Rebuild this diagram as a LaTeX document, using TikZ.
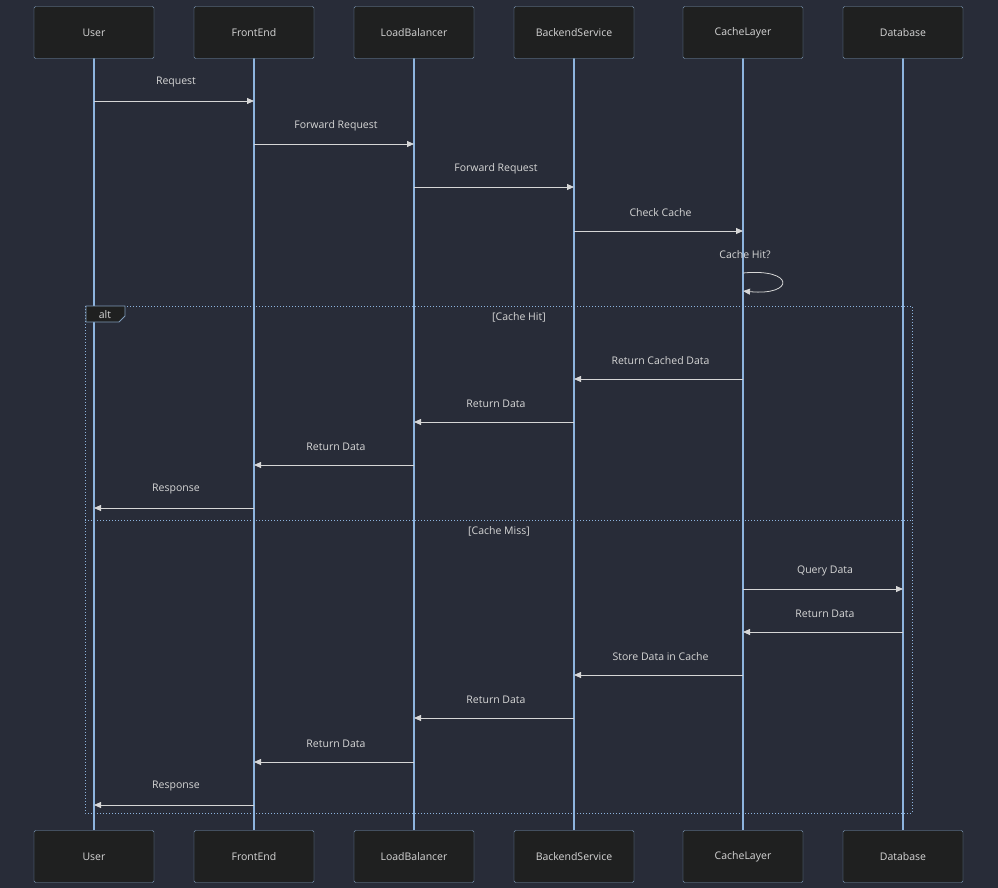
\documentclass[tikz,border=0pt]{standalone}
\usepackage{fontspec}
\setmainfont{Open Sans}
\usetikzlibrary{arrows.meta}
\definecolor{bg}{HTML}{282C38}
\definecolor{boxf}{HTML}{1F2020}
\definecolor{boxd}{HTML}{7E9AB8}
\definecolor{life}{HTML}{8DB4DE}
\definecolor{txt}{HTML}{D6D6D6}
\tikzset{
 actor/.style={draw=boxd,fill=boxf,rounded corners=1.5pt,minimum width=120pt,minimum height=52pt,text=txt,font=\fontsize{10.5}{12}\selectfont,inner sep=0pt},
 lifeln/.style={draw=life,line width=1.2pt},
 msg/.style={draw=txt,line width=0.8pt,-{Triangle[length=7pt,width=6pt]}},
 lbl/.style={text=txt,font=\fontsize{10.5}{12}\selectfont,inner sep=0pt},
 frame/.style={draw=life,line width=1pt,dotted},
}
\begin{document}
\begin{tikzpicture}[x=1pt,y=-1pt]
\fill[bg] (0,0) rectangle (998,888);
\useasboundingbox (0,0) rectangle (998,888);
\foreach \n/\x/\t in {u/94/User,f/254/FrontEnd,l/414/LoadBalancer,b/574/BackendService,c/743/CacheLayer,d/903/Database}{
 \draw[lifeln] (\x,58) -- (\x,830);
 \node[actor] (\n t) at (\x,32.5) {\t};
 \node[actor] (\n b) at (\x,856.5) {\t};
}
% alt frame
\draw[frame] (85,306) rectangle (912,813);
\draw[frame] (85,520) -- (912,520);
\draw[draw=boxd,fill=boxf,line width=0.8pt] (86,306) -- (125,306) -- (125,316) -- (119,322) -- (86,322) -- cycle;
\node[lbl] (alt) at (105,315) {alt};
\node[lbl] (hit) at (519,317) {[Cache Hit]};
\node[lbl] (miss) at (499,531) {[Cache Miss]};
% messages
\foreach \a/\b/\y/\t in {94/254/101/Request,254/414/144/Forward Request,414/574/187/Forward Request,574/743/231/Check Cache,
 743/574/379/Return Cached Data,574/414/422/Return Data,414/254/465/Return Data,254/94/508/Response,
 743/903/589/Query Data,903/743/632/Return Data,743/574/675/Store Data in Cache,574/414/718/Return Data,414/254/762/Return Data,254/94/805/Response}{
 \coordinate (s) at (\a,\y); \coordinate (e) at (\b,\y);
 \draw[msg] (s) -- (e);
 \node[lbl] at ({(\a+\b)/2+2},{\y-18.5}) {\t};
}
\node[lbl] (ch) at (745,255) {Cache Hit?};
\coordinate (c1) at (743,273); \coordinate (c2) at (743,291);
\draw[msg] (c1) .. controls (795,268) and (795,296) .. (c2);
\end{tikzpicture}
\end{document}
